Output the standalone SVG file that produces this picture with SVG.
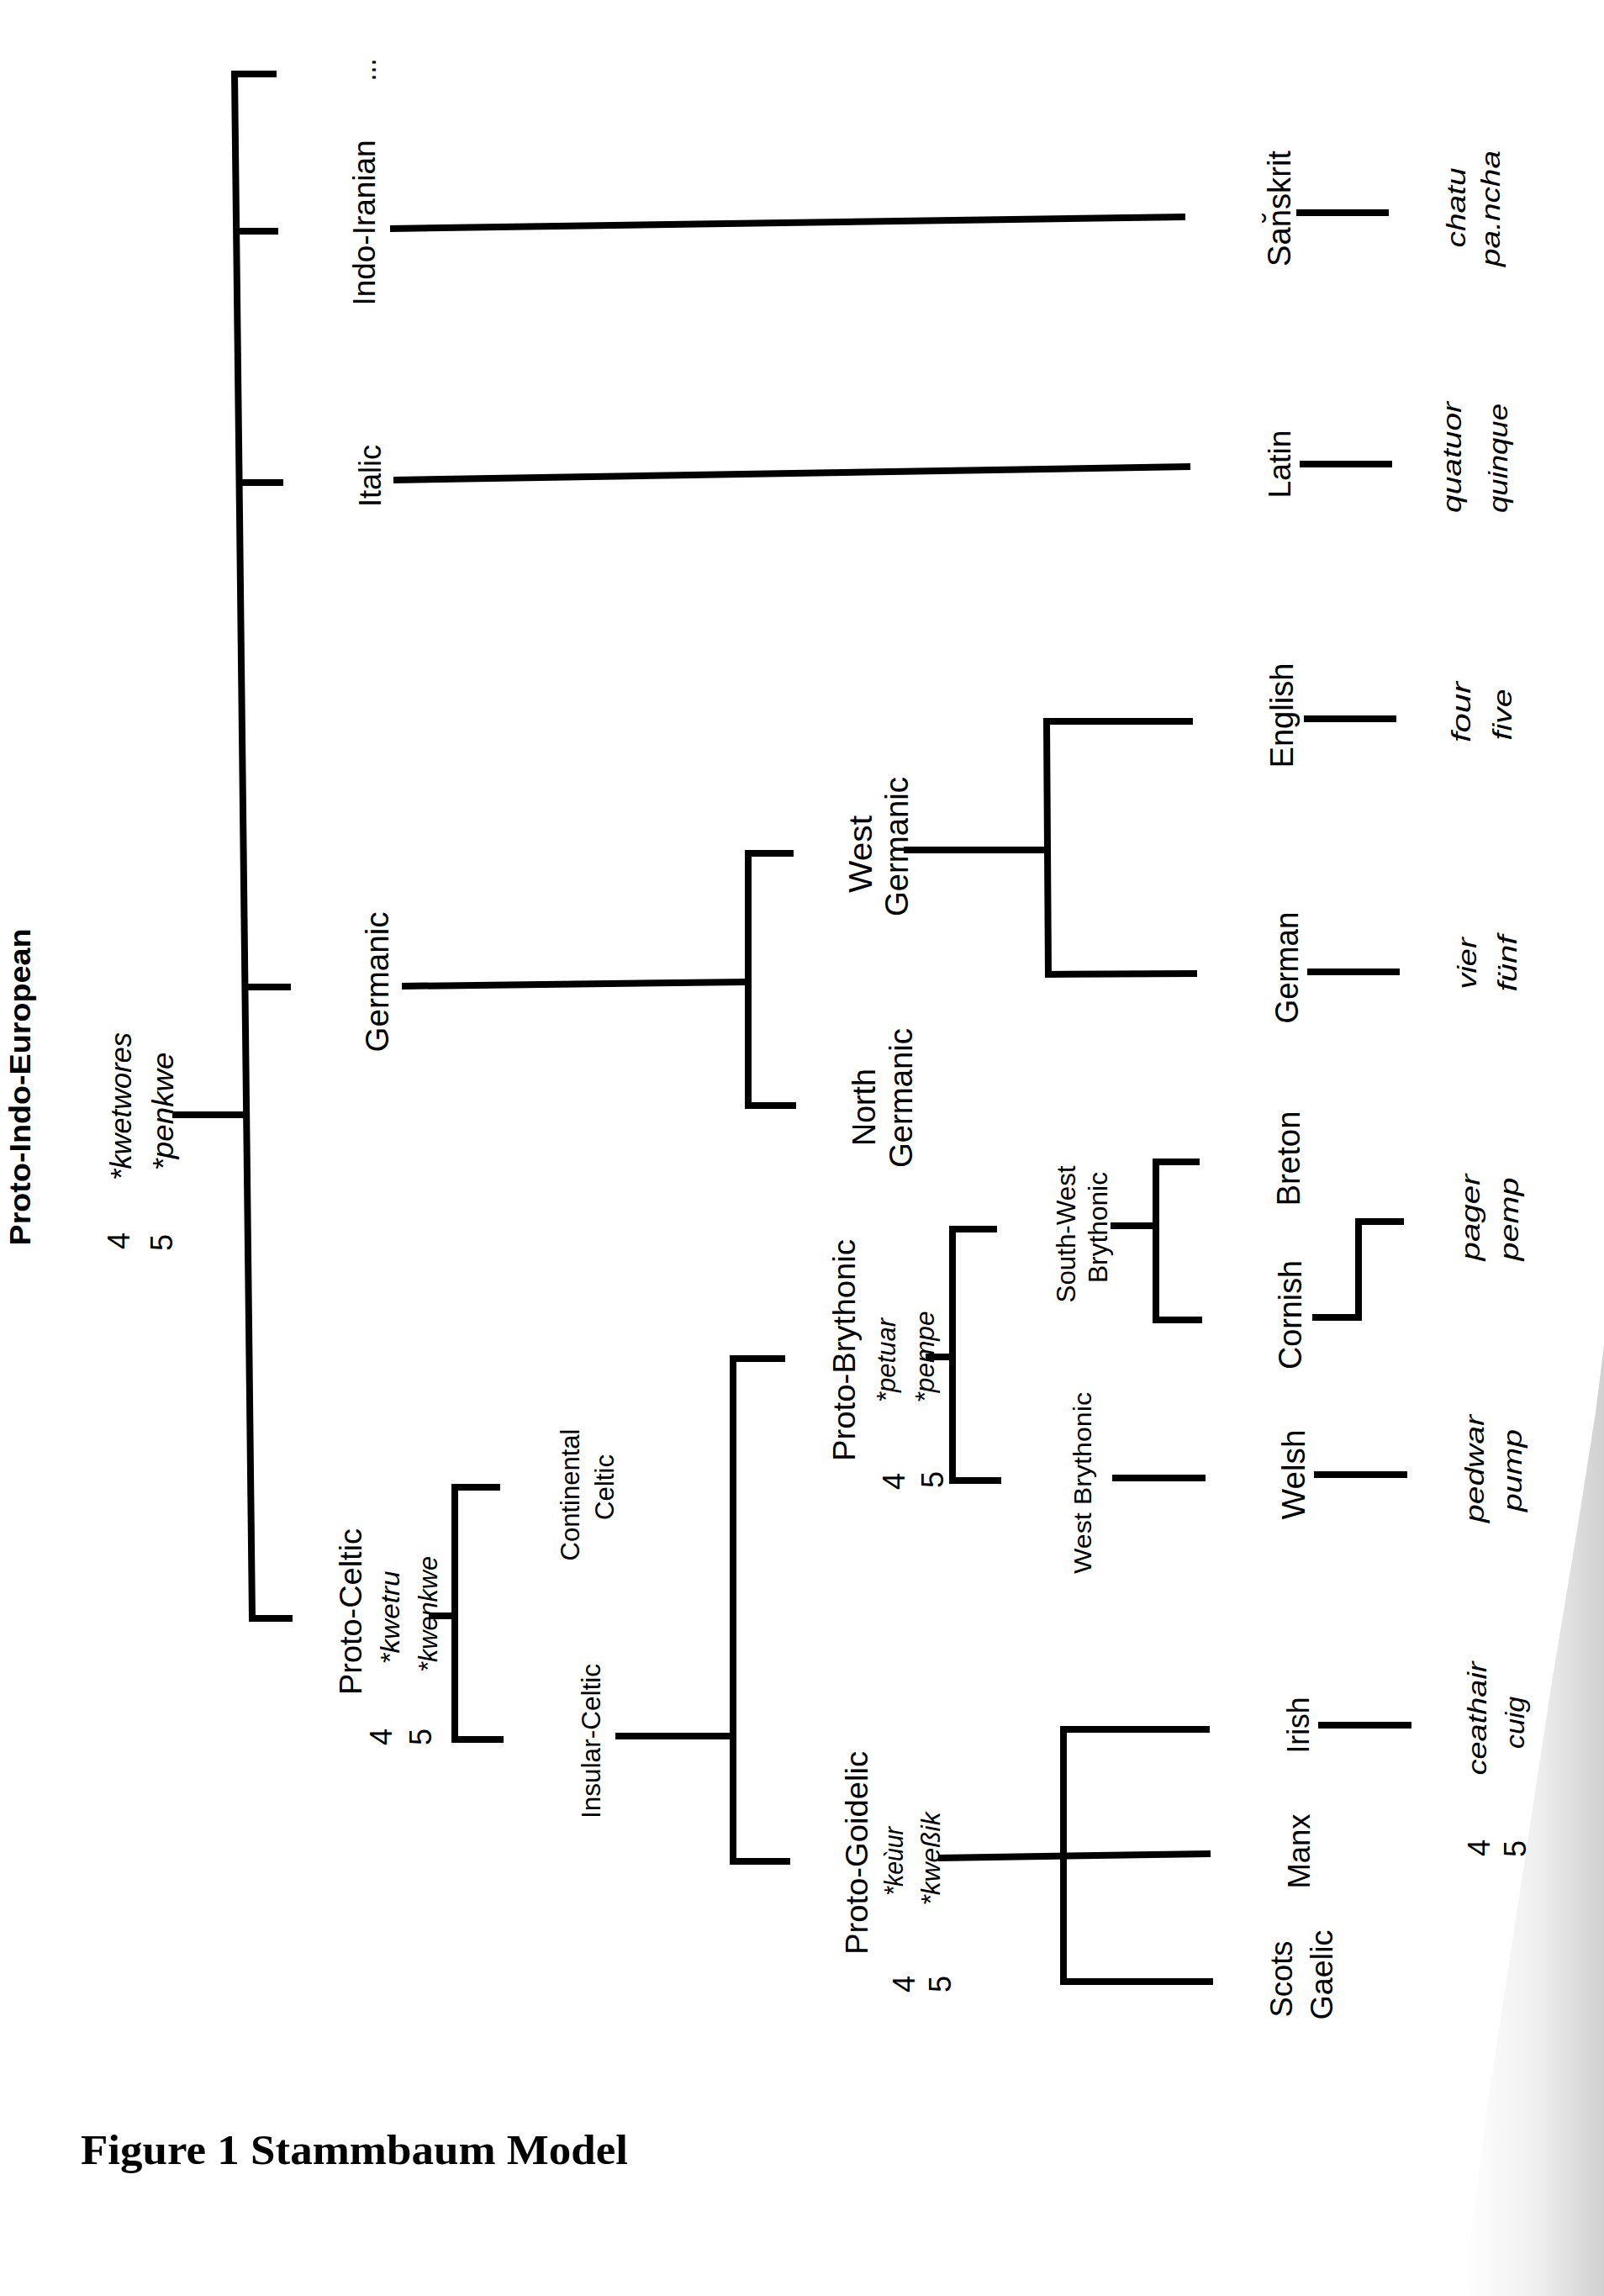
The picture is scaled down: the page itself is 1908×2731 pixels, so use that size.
<svg xmlns="http://www.w3.org/2000/svg" width="1908" height="2731" viewBox="0 0 1908 2731">
<defs>
<style>
.ln{stroke:#000;stroke-width:8;fill:none;stroke-linecap:butt;stroke-linejoin:miter}
text{font-family:"Liberation Sans",Arial,sans-serif;font-size:38px;fill:#000;text-anchor:middle}
.it{font-style:italic;font-size:32px}
.sm{font-size:31px}
.num{font-size:36px}
.pf{font-style:italic;font-size:32px}
.ttl{font-weight:bold;font-size:35px}
.cap{font-family:"Liberation Serif","Times New Roman",serif;font-weight:bold;font-size:50px;text-anchor:start}
</style>
<linearGradient id="haze" x1="0" y1="0" x2="1" y2="0">
<stop offset="0" stop-color="#ffffff"/>
<stop offset="0.5" stop-color="#f0f0f0"/>
<stop offset="1" stop-color="#d0d0d0"/>
</linearGradient>
</defs>
<rect width="1908" height="2731" fill="#fff"/>
<polygon points="1908,1600 1898,1680 1876,1820 1846,2000 1808,2250 1770,2500 1740,2731 1908,2731" fill="url(#haze)"/>

<g id="connectors">
<polyline class="ln" points="329,88 279,88 300,1925 348,1925"/>
<line class="ln" x1="281" y1="275" x2="331" y2="275"/>
<line class="ln" x1="284" y1="574" x2="337" y2="574"/>
<line class="ln" x1="291" y1="1174" x2="346" y2="1174"/>
<line class="ln" x1="205" y1="1326" x2="292" y2="1326"/>
<line class="ln" x1="464" y1="272" x2="1410" y2="258" stroke-width="9"/>
<line class="ln" x1="468" y1="571" x2="1416" y2="555"/>
<line class="ln" x1="1542" y1="253" x2="1652" y2="253"/>
<line class="ln" x1="1546" y1="552" x2="1656" y2="552"/>
<line class="ln" x1="478" y1="1173" x2="890" y2="1168"/>
<polyline class="ln" points="944,1015 890,1015 890,1315 947,1315"/>
<line class="ln" x1="1075" y1="1011" x2="1245" y2="1011"/>
<polyline class="ln" points="1419,858 1245,858 1247,1159 1424,1158"/>
<line class="ln" x1="1551" y1="855" x2="1661" y2="855"/>
<line class="ln" x1="1555" y1="1156" x2="1665" y2="1156"/>
<polyline class="ln" points="595,1769 541,1769 541,2069 599,2069"/>
<line class="ln" x1="510" y1="1922" x2="541" y2="1922"/>
<line class="ln" x1="732" y1="2065" x2="872" y2="2065"/>
<polyline class="ln" points="934,1616 872,1616 872,2214 940,2214"/>
<polyline class="ln" points="1186,1462 1133,1462 1133,1761 1191,1761"/>
<line class="ln" x1="1101" y1="1614" x2="1133" y2="1614"/>
<polyline class="ln" points="1427,1382 1375,1382 1375,1570 1430,1570"/>
<line class="ln" x1="1321" y1="1458" x2="1375" y2="1458"/>
<line class="ln" x1="1323" y1="1758" x2="1434" y2="1758"/>
<line class="ln" x1="1563" y1="1754" x2="1674" y2="1754"/>
<polyline class="ln" points="1561,1567 1616,1567 1616,1453 1670,1453"/>
<polyline class="ln" points="1439,2057 1265,2057 1265,2357 1443,2357"/>
<line class="ln" x1="1116" y1="2210" x2="1440" y2="2205"/>
<line class="ln" x1="1568" y1="2052" x2="1679" y2="2052"/>
</g>

<g id="node-proto-indo-european">
<text class="ttl" transform="translate(36,1293) rotate(-90)" textLength="377" lengthAdjust="spacingAndGlyphs">Proto-Indo-European</text>
<text class="num" transform="translate(154,1476) rotate(-90)">4</text>
<text class="num" transform="translate(205,1478) rotate(-90)">5</text>
<text class="pf" style="font-size:35px" transform="translate(156,1316) rotate(-90)" textLength="176" lengthAdjust="spacingAndGlyphs">*kwetwores</text>
<text class="pf" style="font-size:35px" transform="translate(206,1322) rotate(-90)" textLength="141" lengthAdjust="spacingAndGlyphs">*penkwe</text>
</g>

<g id="node-more">
<text style="font-size:38px" transform="translate(447,83) rotate(-90)" textLength="27" lengthAdjust="spacingAndGlyphs">...</text>
</g>

<g id="node-indo-iranian">
<text style="font-size:36px" transform="translate(446,265) rotate(-90)" textLength="197" lengthAdjust="spacingAndGlyphs">Indo-Iranian</text>
</g>

<g id="node-italic">
<text style="font-size:37px" transform="translate(453,566) rotate(-90)" textLength="74" lengthAdjust="spacingAndGlyphs">Italic</text>
</g>

<g id="node-germanic">
<text transform="translate(462,1168) rotate(-90)" textLength="167" lengthAdjust="spacingAndGlyphs">Germanic</text>
</g>

<g id="node-west-germanic">
<text transform="translate(1037,1016) rotate(-90)" textLength="92" lengthAdjust="spacingAndGlyphs">West</text>
<text transform="translate(1080,1007) rotate(-90)" textLength="166" lengthAdjust="spacingAndGlyphs">Germanic</text>
</g>

<g id="node-north-germanic">
<text transform="translate(1041,1317) rotate(-90)" textLength="92" lengthAdjust="spacingAndGlyphs">North</text>
<text transform="translate(1085,1306) rotate(-90)" textLength="166" lengthAdjust="spacingAndGlyphs">Germanic</text>
</g>

<g id="node-sanskrit">
<text transform="translate(1535,248) rotate(-90)" textLength="138" lengthAdjust="spacingAndGlyphs">San̆skrit</text>
<text class="it" transform="translate(1743,247) rotate(-90)" textLength="95" lengthAdjust="spacingAndGlyphs">chatu</text>
<text class="it" transform="translate(1784,248) rotate(-90)" textLength="138" lengthAdjust="spacingAndGlyphs">pa.ncha</text>
</g>

<g id="node-latin">
<text style="font-size:37px" transform="translate(1535,552) rotate(-90)" textLength="81" lengthAdjust="spacingAndGlyphs">Latin</text>
<text class="it" transform="translate(1738,544) rotate(-90)" textLength="132" lengthAdjust="spacingAndGlyphs">quatuor</text>
<text class="it" transform="translate(1793,545) rotate(-90)" textLength="130" lengthAdjust="spacingAndGlyphs">quinque</text>
</g>

<g id="node-english">
<text transform="translate(1538,851) rotate(-90)" textLength="125" lengthAdjust="spacingAndGlyphs">English</text>
<text class="it" transform="translate(1749,847) rotate(-90)" textLength="72" lengthAdjust="spacingAndGlyphs">four</text>
<text class="it" transform="translate(1798,850) rotate(-90)" textLength="61" lengthAdjust="spacingAndGlyphs">five</text>
</g>

<g id="node-german">
<text transform="translate(1544,1151) rotate(-90)" textLength="133" lengthAdjust="spacingAndGlyphs">German</text>
<text class="it" transform="translate(1756,1146) rotate(-90)" textLength="61" lengthAdjust="spacingAndGlyphs">vier</text>
<text class="it" transform="translate(1804,1146) rotate(-90)" textLength="67" lengthAdjust="spacingAndGlyphs">fünf</text>
</g>

<g id="node-proto-celtic">
<text style="font-size:36px" transform="translate(430,1917) rotate(-90)" textLength="198" lengthAdjust="spacingAndGlyphs">Proto-Celtic</text>
<text class="num" transform="translate(466,2066) rotate(-90)">4</text>
<text class="num" transform="translate(513,2066) rotate(-90)">5</text>
<text class="pf" transform="translate(475,1924) rotate(-90)" textLength="111" lengthAdjust="spacingAndGlyphs">*kwetru</text>
<text class="pf" transform="translate(520,1920) rotate(-90)" textLength="138" lengthAdjust="spacingAndGlyphs">*kwenkwe</text>
</g>

<g id="node-continental-celtic">
<text class="sm" transform="translate(689,1778) rotate(-90)" textLength="157" lengthAdjust="spacingAndGlyphs">Continental</text>
<text class="sm" transform="translate(730,1769) rotate(-90)" textLength="78" lengthAdjust="spacingAndGlyphs">Celtic</text>
</g>

<g id="node-insular-celtic">
<text class="sm" transform="translate(714,2071) rotate(-90)" textLength="184" lengthAdjust="spacingAndGlyphs">Insular-Celtic</text>
</g>

<g id="node-proto-brythonic">
<text style="font-size:37px" transform="translate(1017,1606) rotate(-90)" textLength="264" lengthAdjust="spacingAndGlyphs">Proto-Brythonic</text>
<text class="num" transform="translate(1076,1762) rotate(-90)">4</text>
<text class="num" transform="translate(1122,1760) rotate(-90)">5</text>
<text class="pf" transform="translate(1065,1618) rotate(-90)" textLength="100" lengthAdjust="spacingAndGlyphs">*petuar</text>
<text class="pf" transform="translate(1111,1614) rotate(-90)" textLength="109" lengthAdjust="spacingAndGlyphs">*pempe</text>
</g>

<g id="node-south-west-brythonic">
<text class="sm" transform="translate(1279,1468) rotate(-90)" textLength="163" lengthAdjust="spacingAndGlyphs">South-West</text>
<text class="sm" transform="translate(1317,1460) rotate(-90)" textLength="132" lengthAdjust="spacingAndGlyphs">Brythonic</text>
</g>

<g id="node-west-brythonic">
<text style="font-size:30px" transform="translate(1298,1764) rotate(-90)" textLength="216" lengthAdjust="spacingAndGlyphs">West Brythonic</text>
</g>

<g id="node-breton">
<text transform="translate(1546,1378) rotate(-90)" textLength="113" lengthAdjust="spacingAndGlyphs">Breton</text>
</g>

<g id="node-cornish">
<text transform="translate(1548,1564) rotate(-90)" textLength="130" lengthAdjust="spacingAndGlyphs">Cornish</text>
<text class="it" transform="translate(1760,1448) rotate(-90)" textLength="103" lengthAdjust="spacingAndGlyphs">pager</text>
<text class="it" transform="translate(1806,1450) rotate(-90)" textLength="99" lengthAdjust="spacingAndGlyphs">pemp</text>
</g>

<g id="node-welsh">
<text transform="translate(1552,1754) rotate(-90)" textLength="107" lengthAdjust="spacingAndGlyphs">Welsh</text>
<text class="it" transform="translate(1765,1747) rotate(-90)" textLength="128" lengthAdjust="spacingAndGlyphs">pedwar</text>
<text class="it" transform="translate(1810,1749) rotate(-90)" textLength="98" lengthAdjust="spacingAndGlyphs">pump</text>
</g>

<g id="node-proto-goidelic">
<text style="font-size:37px" transform="translate(1032,2204) rotate(-90)" textLength="242" lengthAdjust="spacingAndGlyphs">Proto-Goidelic</text>
<text class="num" transform="translate(1088,2360) rotate(-90)">4</text>
<text class="num" transform="translate(1131,2360) rotate(-90)">5</text>
<text class="pf" transform="translate(1074,2214) rotate(-90)" textLength="82" lengthAdjust="spacingAndGlyphs">*keùur</text>
<text class="pf" transform="translate(1118,2211) rotate(-90)" textLength="111" lengthAdjust="spacingAndGlyphs">*kweßik</text>
</g>

<g id="node-irish">
<text style="font-size:36px" transform="translate(1557,2052) rotate(-90)" textLength="67" lengthAdjust="spacingAndGlyphs">Irish</text>
<text class="it" transform="translate(1768,2044) rotate(-90)" textLength="135" lengthAdjust="spacingAndGlyphs">ceathair</text>
<text class="it" transform="translate(1813,2049) rotate(-90)" textLength="62" lengthAdjust="spacingAndGlyphs">cuig</text>
</g>

<g id="node-manx">
<text style="font-size:36px" transform="translate(1558,2202) rotate(-90)" textLength="89" lengthAdjust="spacingAndGlyphs">Manx</text>
<text class="num" transform="translate(1772,2198) rotate(-90)">4</text>
<text class="num" transform="translate(1815,2199) rotate(-90)">5</text>
</g>

<g id="node-scots-gaelic">
<text style="font-size:37px" transform="translate(1537,2354) rotate(-90)" textLength="91" lengthAdjust="spacingAndGlyphs">Scots</text>
<text style="font-size:37px" transform="translate(1585,2349) rotate(-90)" textLength="107" lengthAdjust="spacingAndGlyphs">Gaelic</text>
</g>

<g id="caption">
<text class="cap" x="96" y="2574" textLength="651" lengthAdjust="spacingAndGlyphs">Figure 1 Stammbaum Model</text>
</g>
</svg>
